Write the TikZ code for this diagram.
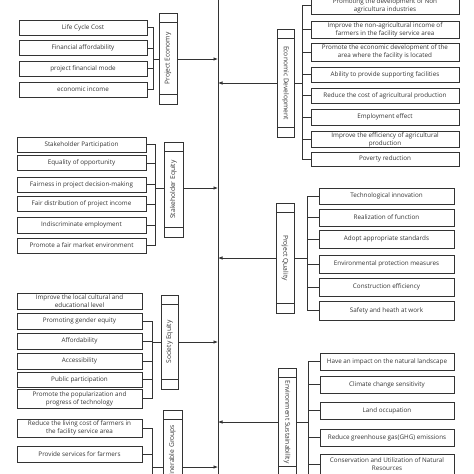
\documentclass[tikz,border=0pt]{standalone}
\usepackage{fontspec,graphicx}
\setmainfont{Open Sans}
\usepackage{tikz}
\usetikzlibrary{arrows.meta}
\tikzset{
	% item boxes, dimension boxes and connectors
	crit node/.style={rectangle,draw=black!80,line width=0.8pt,align=center,inner sep=1pt,text=black!80,minimum height=15},
	dim node/.style={rectangle,draw=black!80,line width=0.8pt,inner sep=0pt,text=black!80,font=\fontsize{6.7}{8}\selectfont,
		path picture={\draw[black!80,line width=0.7pt]
			([yshift=-9.5pt]path picture bounding box.north west) -- ([yshift=-9.5pt]path picture bounding box.north east)
			([yshift=9.5pt]path picture bounding box.south west) -- ([yshift=9.5pt]path picture bounding box.south east);}},
	link/.style={draw=black!80,line width=0.65pt},
	to spine/.style={link,-{Latex[length=4.5pt,width=3.5pt]}}
}

\begin{document}
\begin{tikzpicture}[x=1pt,y=-1pt,font=\fontsize{6.3}{7.8}\selectfont]
			% macro for item boxes and for joining an item to its bracket
			\newcommand{\crit}[4][]{\node[crit node,#1](#2)at(#3){#4};}
			\newcommand{\joinitem}[3][east]{\draw[link](#2.#1)-|(#3);}
			\useasboundingbox (0,0) rectangle (474,474);
			\clip (0,0) rectangle (474,474);
			
			% central spine
			\coordinate (spine top) at (218,-2);
			\coordinate (spine bot) at (218,476);
			\draw[link] (spine top) -- (spine bot);
			
			% Project Economy
			\node(pe)[dim node,minimum width=18,minimum height=91] at (168,58.5) {\rotatebox{90}{Project Economy}};
			\coordinate (peJ) at (153,59);
			\crit[minimum width=128]{pe1}{83,27.5}{Life Cycle Cost}
			\crit[minimum width=128]{pe2}{83,48}{Financial affordability}
			\crit[minimum width=128]{pe3}{83,68.5}{project financial mode}
			\crit[minimum width=128]{pe4}{83,89.5}{economic income}
			\joinitem{pe1}{peJ}
			\joinitem{pe2}{peJ}
			\joinitem{pe3}{peJ}
			\joinitem{pe4}{peJ}
			\draw[link] (peJ) -- (peJ -| pe.west);
			\draw[to spine] (peJ -| pe.east) -- (peJ -| spine top);
			
			% Stakeholder Equity
			\node(se)[dim node,minimum width=19,minimum height=95] at (173.5,189.5) {\rotatebox{90}{Stakeholder Equity}};
			\coordinate (seJ) at (155,188);
			\crit[minimum width=129]{se1}{81.5,144.5}{Stakeholder Participation}
			\crit[minimum width=129]{se2}{81.5,163}{Equality of opportunity}
			\crit[minimum width=129]{se3}{81.5,184.5}{Fairness in project decision-making}
			\crit[minimum width=129]{se4}{81.5,204}{Fair distribution of project income}
			\crit[minimum width=129,minimum height=16]{se5}{81.5,225}{Indiscriminate employment}
			\crit[minimum width=129]{se6}{81.5,245.5}{Promote a fair market environment}
			\joinitem{se1}{seJ}
			\joinitem{se2}{seJ}
			\joinitem{se3}{seJ}
			\joinitem{se4}{seJ}
			\joinitem{se5}{seJ}
			\joinitem{se6}{seJ}
			\draw[link] (seJ) -- (seJ -| se.west);
			\draw[to spine] (seJ -| se.east) -- (seJ -| spine top);
			
			% Society Equity
			\node(so)[dim node,minimum width=17,minimum height=94] at (169.5,342) {\rotatebox{90}{Society Equity}};
			\coordinate (soJ) at (152,342);
			\crit[minimum width=125,minimum height=16]{so1}{79.5,301}{Improve the local cultural and\\educational level}
			\crit[minimum width=125,minimum height=16]{so2}{79.5,321}{Promoting gender equity}
			\crit[minimum width=125,minimum height=16]{so3}{79.5,341}{Affordability}
			\crit[minimum width=125,minimum height=16]{so4}{79.5,361}{Accessibility}
			\crit[minimum width=125]{so5}{79.5,379.5}{Public participation}
			\crit[minimum width=125,minimum height=19]{so6}{79.5,398.5}{Promote the popularization and\\progress of technology}
			\joinitem{so2}{soJ}
			\joinitem{so3}{soJ}
			\joinitem{so4}{soJ}
			\joinitem{so5}{soJ}
			\joinitem{so6}{soJ}
			\draw[link] (soJ) -- (soJ -| so.west);
			\draw[to spine] (soJ -| so.east) -- (soJ -| spine top);
			
			% Vulnerable Groups
			\node(vg)[dim node,minimum width=19,minimum height=88] at (172.5,454) {\rotatebox{90}{Vulnerable Groups}};
			\coordinate (vgJ) at (152,467);
			\coordinate (vgEnd) at (152,480);
			\crit[minimum width=125,minimum height=18]{vg1}{79.5,428}{Reduce the living cost of farmers in\\the facility service area}
			\crit[minimum width=125,minimum height=16]{vg2}{79.5,454}{Provide services for farmers}
			\joinitem{vg1}{vgJ}
			\joinitem{vg2}{vgJ}
			\draw[link] (vgJ) -- (vgEnd);
			\draw[link] (vgJ) -- (vgJ -| vg.west);
			\draw[to spine] (vgJ -| vg.east) -- (vgJ -| spine top);
			
			% Economic Development
			\node(ed)[dim node,minimum width=17,minimum height=108] at (285.5,83) {\rotatebox{-90}{Economic Development}};
			\coordinate (edJ) at (302,83);
			\crit[minimum width=148,minimum height=17]{ed1}{385,5.5}{Promoting the development of Non\\agricultura industries}
			\crit[minimum width=148,minimum height=17]{ed2}{385,29.5}{Improve the non-agricultural income of\\farmers in the facility service area}
			\crit[minimum width=148,minimum height=18]{ed3}{385,52}{Promote the economic development of the\\area where the facility is located}
			\crit[minimum width=148]{ed4}{385,74.5}{Ability to provide supporting facilities}
			\crit[minimum width=148]{ed5}{385,95.5}{Reduce the cost of agricultural production}
			\crit[minimum width=148,minimum height=16]{ed6}{385,117}{Employment effect}
			\crit[minimum width=148]{ed7}{385,139.5}{Improve the efficiency of agricultural\\production}
			\crit[minimum width=148,minimum height=14]{ed8}{385,159}{Poverty reduction}
			\joinitem[west]{ed1}{edJ}
			\joinitem[west]{ed2}{edJ}
			\joinitem[west]{ed3}{edJ}
			\joinitem[west]{ed4}{edJ}
			\joinitem[west]{ed5}{edJ}
			\joinitem[west]{ed6}{edJ}
			\joinitem[west]{ed7}{edJ}
			\joinitem[west]{ed8}{edJ}
			\draw[link] (edJ) -- (edJ -| ed.east);
			\draw[to spine] (edJ -| ed.west) -- (edJ -| spine top);
			
			% Project Quality
			\node(pq)[dim node,minimum width=18,minimum height=110] at (285,258) {\rotatebox{-90}{Project Quality}};
			\coordinate (pqJ) at (307,258);
			\crit[minimum width=135,minimum height=16]{pq1}{386.5,196}{Technological innovation}
			\crit[minimum width=135,minimum height=17]{pq2}{386.5,217.5}{Realization of function}
			\crit[minimum width=135,minimum height=18]{pq3}{386.5,239}{Adopt appropriate standards}
			\crit[minimum width=135,minimum height=18]{pq4}{386.5,264}{Environmental protection measures}
			\crit[minimum width=135,minimum height=18]{pq5}{386.5,287}{Construction efficiency}
			\crit[minimum width=135,minimum height=19]{pq6}{386.5,310.5}{Safety and heath at work}
			\joinitem[west]{pq1}{pqJ}
			\joinitem[west]{pq2}{pqJ}
			\joinitem[west]{pq3}{pqJ}
			\joinitem[west]{pq4}{pqJ}
			\joinitem[west]{pq5}{pqJ}
			\joinitem[west]{pq6}{pqJ}
			\draw[link] (pqJ) -- (pqJ -| pq.east);
			\draw[to spine] (pqJ -| pq.west) -- (pqJ -| spine top);
			
			% Environment Sustainability
			\node(es)[dim node,minimum width=18,minimum height=108] at (287,422) {\rotatebox{-90}{Environment Sustainability}};
			\coordinate (esJ) at (308,422);
			\coordinate (esEnd) at (308,480);
			\crit[minimum width=134,minimum height=17]{es1}{387,361.5}{Have an impact on the natural landscape}
			\crit[minimum width=134,minimum height=17]{es2}{387,384.5}{Climate change sensitivity}
			\crit[minimum width=134,minimum height=17]{es3}{387,410.5}{Land occupation}
			\crit[minimum width=134,minimum height=17]{es4}{387,437.5}{Reduce greenhouse gas(GHG) emissions}
			\crit[minimum width=134,minimum height=20]{es5}{387,464}{Conservation and Utilization of Natural\\Resources}
			\joinitem[west]{es1}{esJ}
			\joinitem[west]{es2}{esJ}
			\joinitem[west]{es3}{esJ}
			\joinitem[west]{es4}{esJ}
			\joinitem[west]{es5}{esJ}
			\draw[link] (esJ) -- (esEnd);
			\draw[link] (esJ) -- (esJ -| es.east);
			\draw[to spine] (esJ -| es.west) -- (esJ -| spine top);
\end{tikzpicture}
\end{document}
